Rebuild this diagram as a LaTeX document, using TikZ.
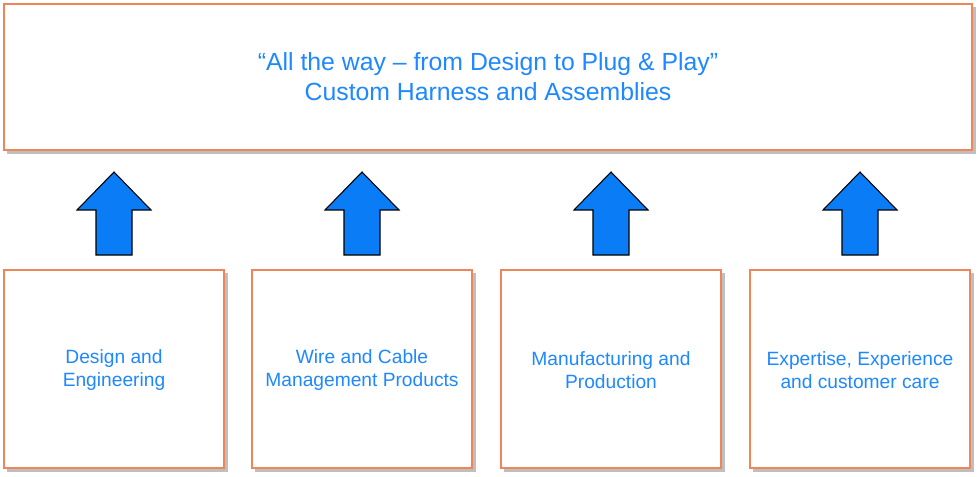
\documentclass[tikz,border=0pt]{standalone}
\usepackage{fontspec}
\setmainfont{Liberation Sans}
\begin{document}
\begin{tikzpicture}[x=0.75pt,y=-0.75pt,
  box/.style={draw=boxc,line width=1pt,fill=white},
  shadow/.style={fill=black!25,draw=none},
  txt/.style={text=txtc,align=center,font=\fontsize{14.4}{17}\selectfont},
  big/.style={text=txtc,align=center,font=\fontsize{18.6}{22.5}\selectfont},
  arr/.style={fill=arrc,draw=black,line width=0.8pt,line join=miter}]
\definecolor{boxc}{HTML}{F0845A}
\definecolor{txtc}{HTML}{1E88FF}
\definecolor{arrc}{HTML}{0A7CF5}
\useasboundingbox (0,0) rectangle (980,477);
\fill[shadow] (7,7) rectangle (976,154);
\draw[box] (4,4) rectangle (972,150);
\node[big] (title) at (488,77) {“All the way – from Design to Plug \& Play”\\Custom Harness and Assemblies};
\foreach \x/\n/\t in {4/a/{Design and\\Engineering},252/b/{Wire and Cable\\Management Products},501/c/{Manufacturing and\\Production},750/d/{Expertise, Experience\\and customer care}}{
  \fill[shadow] (\x+3,273) rectangle (\x+224,472);
  \draw[box] (\x,270) rectangle (\x+220,468);
  \node[txt] (\n) at (\x+110,370) {\t};
  \draw[arr] (\x+110,172) -- (\x+147,210) -- (\x+128,210) -- (\x+128,255) -- (\x+92,255) -- (\x+92,210) -- (\x+73,210) -- cycle;
}
\end{tikzpicture}
\end{document}
